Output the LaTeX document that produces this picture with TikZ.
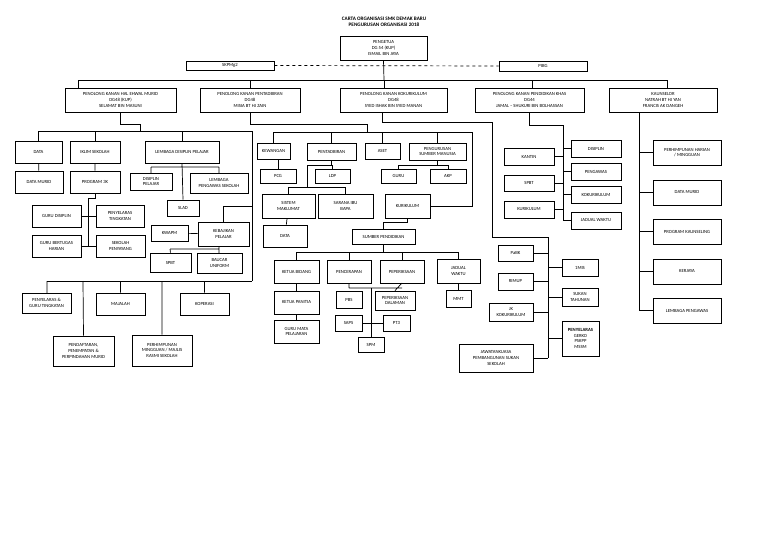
\documentclass[tikz,border=0pt]{standalone}
\usepackage{fontspec}
\setmainfont{Carlito}
\begin{document}
\begin{tikzpicture}[x=1pt,y=1pt,
  box/.style={draw,line width=0.8pt,inner sep=0pt,align=center,font=\fontsize{4.7}{5.6}\selectfont},
  ln/.style={line width=0.7pt}]
\useasboundingbox (0,0) rectangle (768,-543);
\newcommand\bx[6]{\node[box,minimum width={#4-#2},minimum height={#5-#3}] (#1) at ({(#2+#4)/2},{-(#3+#5)/2}) {#6};}
\node[font=\bfseries\fontsize{5.2}{6.2}\selectfont,align=center] (title) at (384,-22) {CARTA ORGANISASI SMK DEMAK BARU\\PENGURUSAN ORGANISASI 2018};
\bx{pg}{340}{36}{427}{60}{PENGETUA\\DG 54 (KUP)\\ISMAIL BIN JAYA}
\bx{skp}{186}{61}{274}{70}{SKPMg2}
\bx{pibg}{499}{61}{587}{71}{PIBG}
\bx{hem}{65}{88}{176}{112}{PENOLONG KANAN HAL EHWAL MURID\\DG48 (KUP)\\SELAMAT BIN MASUNI}
\bx{pt}{200}{88}{300}{112}{PENOLONG KANAN PENTADBIRAN\\DG48\\MISIA BT HJ ZAIN}
\bx{ko}{340}{88}{447}{112}{PENOLONG KANAN KOKURIKULUM\\DG48\\SYED ISHAK BIN SYED MANAN}
\bx{pk}{475}{88}{584}{112}{PENOLONG KANAN PENDIDIKAN KHAS\\DG44\\JAMAL – SHUKURI BIN BOLHASSAN}
\bx{ka}{609}{88}{717}{112}{KAUNSELOR\\NATRAH BT HJ YAN\\FRANCIS AK DANGEH}
\draw[ln,dashed] (skp.east) -- (pibg.west);
\draw[ln] (pg.south) -- (384,-80);
\draw[ln] (78,-80) -- (667,-80);
\foreach \xx in {78,250,384,532,667} \draw[ln] (\xx,-80) -- (\xx,-88);
% HEM
\bx{data}{15}{141}{62}{163}{DATA}
\bx{iklim}{70}{141}{120}{163}{IKLIM SEKOLAH}
\bx{ldp}{145}{141}{219}{163}{LEMBAGA DISIPLIN PELAJAR}
\bx{dm}{15}{171}{63}{193}{DATA MURID}
\bx{p3k}{70}{171}{120}{193}{PROGRAM 3K}
\bx{dp}{130}{173}{172}{190}{DISIPLIN\\PELAJAR}
\bx{lps}{190}{173}{248}{193}{LEMBAGA\\PENGAWAS SEKOLAH}
\bx{slad}{167}{200}{199}{216}{SLAD}
\bx{kwapm}{151}{225}{188}{241}{KWAPM}
\bx{keb}{198}{222}{249}{246}{KEBAJIKAN\\PELAJAR}
\bx{spbt}{150}{253}{191}{272}{SPBT}
\bx{bau}{197}{253}{242}{273}{BAUCAR\\UNIFORM}
\bx{gd}{32}{205}{81}{227}{GURU DISIPLIN}
\bx{pting}{96}{205}{144}{227}{PENYELARAS\\TINGKATAN}
\bx{gbh}{32}{235}{81}{257}{GURU BERTUGAS\\HARIAN}
\bx{sp}{96}{235}{145}{257}{SEKOLAH\\PENYAYANG}
\bx{pgt}{22}{293}{71}{313}{PENYELARAS \&\\GURU TINGKATAN}
\bx{maj}{96}{293}{145}{315}{MAJALAH}
\bx{kop}{180}{293}{229}{315}{KOPERASI}
\bx{pend}{53}{336}{114}{366}{PENDAFTARAN,\\PENEMPATAN \&\\PERPINDAHAN MURID}
\bx{perh}{132}{335}{192}{366}{PERHIMPUNAN\\MINGGUAN / MAJLIS\\RASMI SEKOLAH}
\draw[ln] (hem.south) -- (120.5,-124) -- (140,-124) -- (140,-131);
\draw[ln] (38,-131) -- (252,-131) -- (252,-281);
\draw[ln] (38,-131) -- (38,-141) (95,-131) -- (95,-141) (182,-131) -- (182,-141);
\draw[ln] (data) -- (dm) (iklim) -- (p3k);
\draw[ln] (ldp.south) -- (slad.north) (151,-167) -- (219,-167) (151,-167) -- (151,-173) (219,-167) -- (219,-173);
\draw[ln] (kwapm) -- (keb);
\draw[ln] (keb.north) -- (223.5,-206) -- (252,-206);
\draw[ln] (219,-246) -- (219,-249) (170,-249) -- (219,-249) (170,-249) -- (spbt.north) (219,-249) -- (219,-253);
\draw[ln] (p3k.south) -- (95,-198) -- (88,-198) -- (88,-246);
\draw[ln] (gd) -- (pting) (gbh) -- (sp);
\draw[ln] (47,-281) -- (252,-281);
\draw[ln] (47,-281) -- (47,-293) (83,-281) -- (pend.north) (120.5,-281) -- (maj.north) (162,-281) -- (perh.north) (204.5,-281) -- (kop.north);
% Pentadbiran
\bx{kew}{257}{143}{290}{159}{KEWANGAN}
\bx{pent}{307}{143}{356}{160}{PENTADBIRAN}
\bx{aset}{365}{143}{400}{159}{ASET}
\bx{psm}{409}{143}{466}{160}{PENGURUSAN\\SUMBER MANUSIA}
\bx{pcg}{260}{169}{296}{183}{PCG}
\bx{ldpb}{315}{169}{350}{183}{LDP}
\bx{guru}{381}{169}{416}{183}{GURU}
\bx{akp}{430}{169}{466}{183}{AKP}
\bx{sm}{262}{194}{315}{218}{SISTEM\\MAKLUMAT}
\bx{sib}{318}{194}{373}{218}{SARANA IBU\\BAPA}
\bx{data2}{263}{225}{307}{247}{DATA}
\bx{kur}{385}{194}{430}{218}{KURIKULUM}
\bx{sumb}{352}{229}{415}{244}{SUMBER PENDIDIKAN}
\draw[ln] (pt.south) -- (250,-124) -- (367,-124) -- (367,-132);
\draw[ln] (273.5,-132) -- (472,-132) -- (472,-206) -- (kur.east |- 0,-206);
\draw[ln] (273.5,-132) -- (273.5,-143) (331.5,-132) -- (331.5,-143) (382.5,-132) -- (382.5,-143) (437.5,-132) -- (437.5,-143);
\draw[ln] (278,-159) -- (pcg.north);
\draw[ln] (pent.south) -- (331.5,-165) (307,-165) -- (332.5,-165) -- (332.5,-169);
\draw[ln] (307,-165) -- (307,-187) (288.5,-187) -- (345.5,-187) (288.5,-187) -- (288.5,-194) (345.5,-187) -- (345.5,-194);
\draw[ln] (psm.south) -- (437.5,-165) (398.5,-165) -- (448,-165) (398.5,-165) -- (398.5,-169) (448,-165) -- (448,-169);
\draw[ln] (sm) -- (data2);
\draw[ln] (kur.south) -- (407.5,-222) -- (383.5,-222) -- (383.5,-229);
% Sumber
\bx{kb}{274}{260}{319}{283}{KETUA BIDANG}
\bx{penc}{327}{260}{371}{283}{PENCERAPAN}
\bx{pep}{380}{260}{424}{283}{PEPERIKSAAN}
\bx{jw}{437}{259}{480}{283}{JADUAL\\WAKTU}
\bx{kp}{274}{291}{319}{314}{KETUA PANITIA}
\bx{gmp}{274}{320}{319}{343}{GURU MATA\\PELAJARAN}
\bx{mmt}{446}{290}{471}{307}{MMT}
\bx{pbs}{336}{291}{362}{308}{PBS}
\bx{pd}{375}{291}{415}{310}{PEPERIKSAAN\\DALAMAN}
\bx{saps}{335}{315}{362}{331}{SAPS}
\bx{pt3}{383}{315}{410}{331}{PT3}
\bx{spm}{358}{337}{384}{352}{SPM}
\draw[ln] (sumb.south) -- (383.5,-252);
\draw[ln] (296.5,-252) -- (458.5,-252);
\foreach \xx/\yy in {296.5/260,349/260,402/260,458.5/259} \draw[ln] (\xx,-252) -- (\xx,-\yy);
\draw[ln] (kb) -- (kp) (kp) -- (gmp) (jw) -- (mmt);
\draw[ln] (penc.south) -- (349,-288) (349,-288) -- (402,-288) (402,-283) -- (pd.north);
\draw[ln] (371,-288) -- (spm.north) (saps.east) -- (pt3.west);
% Kokurikulum
\bx{pabk}{498}{245}{533}{261}{PaBK}
\bx{rimup}{498}{273}{533}{290}{RIMUP}
\bx{jkk}{489}{303}{533}{321}{JK\\KOKURIKULUM}
\bx{jps}{459}{344}{533}{372}{JAWATANKUASA\\PEMBANGUNAN SUKAN\\SEKOLAH}
\bx{mis}{562}{259}{598}{276}{1MIS}
\bx{suk}{562}{288}{598}{306}{SUKAN\\TAHUNAN}
\bx{pny}{562}{321}{599}{356}{\textbf{PENYELARAS}\\GERKO\\PSKPP\\MSSM}
\draw[ln] (382.5,-112) -- (382.5,-122) -- (492,-122) -- (492,-237) -- (548,-237) -- (548,-358);
\foreach \n in {pabk,rimup,jkk,jps} \draw[ln] (\n.east) -- (\n.east -| 548,0);
\foreach \n in {mis,suk,pny} \draw[ln] (\n.west) -- (\n.west -| 548,0);
% Pendidikan khas
\bx{kant}{504}{148}{554}{165}{KANTIN}
\bx{spbt2}{504}{175}{554}{191}{SPBT}
\bx{kur2}{504}{201}{554}{218}{KURIKULUM}
\bx{dis}{571}{140}{621}{157}{DISIPLIN}
\bx{peng}{571}{163}{621}{180}{PENGAWAS}
\bx{kok}{571}{186}{621}{203}{KOKURIKULUM}
\bx{jw2}{571}{212}{621}{229}{JADUAL WAKTU}
\draw[ln] (pk.south) -- (529.5,-125) -- (563,-125) -- (563,-220.5);
\foreach \n in {kant,spbt2,kur2} \draw[ln] (\n.east) -- (\n.east -| 563,0);
\foreach \n in {dis,peng,kok,jw2} \draw[ln] (\n.west) -- (\n.west -| 563,0);
% Kaunselor
\bx{phm}{653}{140}{721}{165}{PERHIMPUNAN HARIAN\\/ MINGGUAN}
\bx{dmk}{653}{180}{721}{205}{DATA MURID}
\bx{prk}{653}{219}{721}{244}{PROGRAM KAUNSELING}
\bx{ker}{653}{259}{721}{284}{KERJAYA}
\bx{lpw}{653}{298}{721}{323}{LEMBAGA PENGAWAS}
\draw[ln] (639,-112) -- (639,-310.5);
\foreach \n in {phm,dmk,prk,ker,lpw} \draw[ln] (\n.west) -- (\n.west -| 639,0);
\end{tikzpicture}
\end{document}
